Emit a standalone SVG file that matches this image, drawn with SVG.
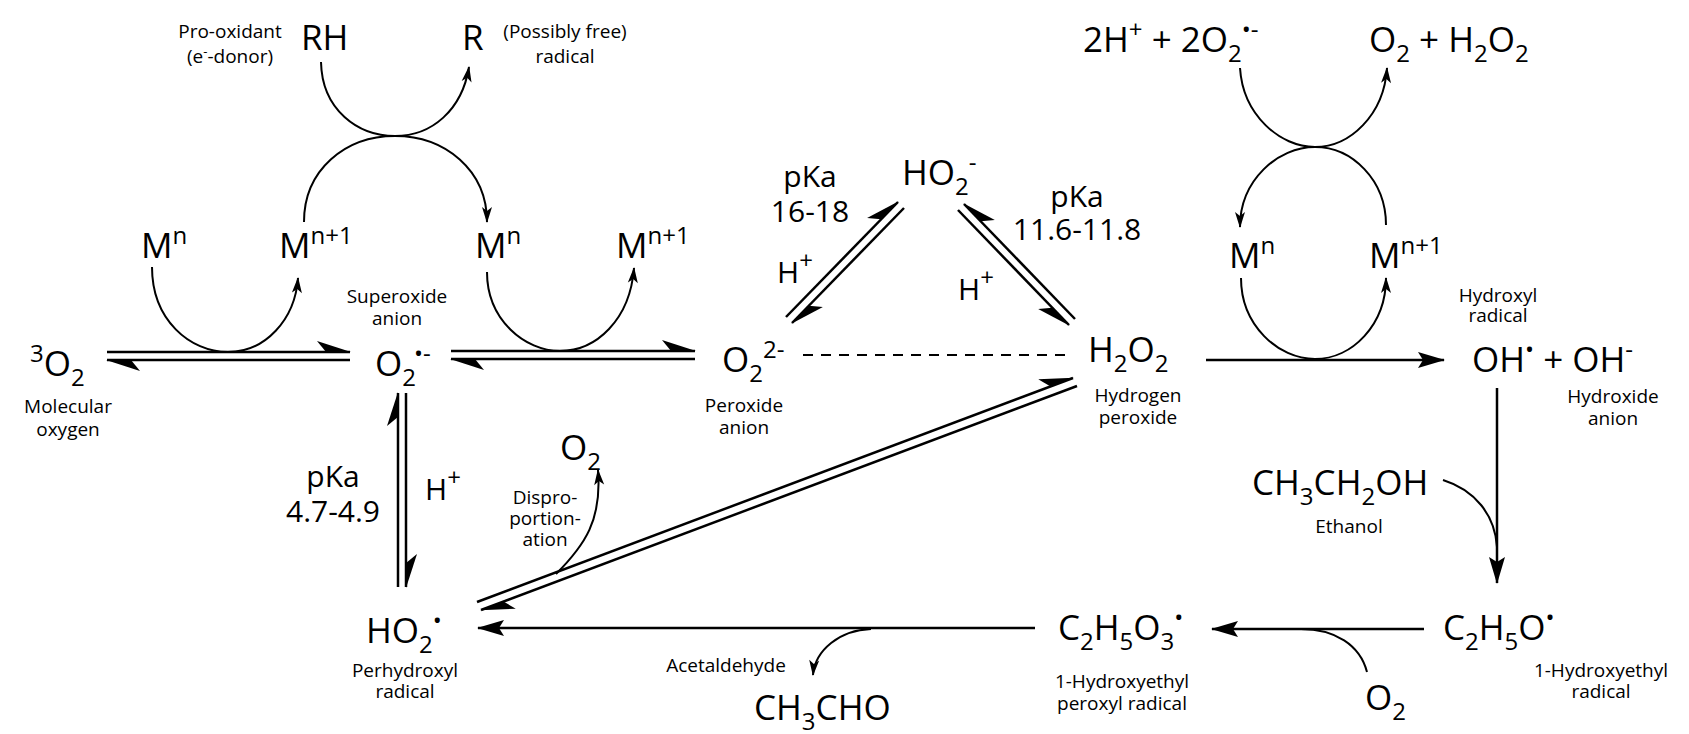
<svg xmlns="http://www.w3.org/2000/svg" width="1689" height="734" viewBox="0 0 1689 734">
<style>
text{font-family:"Open Sans","Noto Sans",sans-serif;fill:#000}
.b{font-size:35px}
.m{font-size:30px}
.s{font-size:19px;text-anchor:middle}
.c{text-anchor:middle}
.sub{font-size:24px;baseline-shift:-10px}
.sup{font-size:24px;baseline-shift:14px}
.ssup{font-size:13px;baseline-shift:7px}
.ln{stroke:#000;stroke-width:2.5;fill:none}
.cv{stroke:#000;stroke-width:2;fill:none}
</style>
<defs>
<marker id="hl" markerUnits="userSpaceOnUse" orient="auto" markerWidth="40" markerHeight="30" refX="0" refY="0" viewBox="-36 -14 40 28" overflow="visible"><path d="M1,0 L-33,-11 L-24,0 Z" fill="#000"/></marker>
<marker id="hr" markerUnits="userSpaceOnUse" orient="auto" markerWidth="40" markerHeight="30" refX="0" refY="0" viewBox="-36 -14 40 28" overflow="visible"><path d="M1,0 L-33,11 L-24,0 Z" fill="#000"/></marker>
<marker id="ar" markerUnits="userSpaceOnUse" orient="auto" markerWidth="40" markerHeight="24" refX="0" refY="0" viewBox="-34 -12 40 24" overflow="visible"><path d="M1,0 L-26,-8 L-21,0 L-26,8 Z" fill="#000"/></marker>
<marker id="sa" markerUnits="userSpaceOnUse" orient="auto" markerWidth="20" markerHeight="12" refX="0" refY="0" viewBox="-18 -6 20 12" overflow="visible"><path d="M1,0 L-15,-5 L-11,0 L-15,5 Z" fill="#000"/></marker>
</defs>
<g id="connectors">
<line class="ln" x1="107" y1="352" x2="350" y2="352" marker-end="url(#hl)"/>
<line class="ln" x1="350" y1="360" x2="107" y2="360" marker-end="url(#hl)"/>
<line class="ln" x1="451" y1="351" x2="695" y2="351" marker-end="url(#hl)"/>
<line class="ln" x1="695" y1="359" x2="451" y2="359" marker-end="url(#hl)"/>
<line class="ln" x1="398" y1="587" x2="398" y2="393" marker-end="url(#hl)"/>
<line class="ln" x1="406" y1="393" x2="406" y2="587" marker-end="url(#hl)"/>
<line class="ln" x1="786" y1="317" x2="898" y2="202" marker-end="url(#hl)"/>
<line class="ln" x1="904" y1="208" x2="792" y2="323" marker-end="url(#hl)"/>
<line class="ln" x1="1075" y1="319" x2="964" y2="204" marker-end="url(#hr)"/>
<line class="ln" x1="958" y1="210" x2="1069" y2="325" marker-end="url(#hr)"/>
<line class="ln" x1="477" y1="602" x2="1073" y2="378" marker-end="url(#hl)"/>
<line class="ln" x1="1077" y1="386" x2="481" y2="610" marker-end="url(#hl)"/>
<line class="cv" x1="803" y1="355" x2="1068" y2="355" stroke-dasharray="10 8"/>
<line class="ln" x1="1206" y1="360" x2="1444" y2="360" marker-end="url(#ar)"/>
<line class="ln" x1="1497" y1="388" x2="1497" y2="583" marker-end="url(#ar)"/>
<line class="ln" x1="1424" y1="629" x2="1212" y2="629" marker-end="url(#ar)"/>
<line class="ln" x1="1035" y1="628" x2="478" y2="628" marker-end="url(#ar)"/>
<path class="cv" d="M321,62 C322,110 358,136 395,136 C432,136 462,110 469,67" marker-end="url(#sa)"/>
<path class="cv" d="M304,222 C304,170 345,136 395,136 C445,136 487,170 487,222" marker-end="url(#sa)"/>
<path class="cv" d="M152,267 C152,320 190,352 228,352 C265,352 295,320 298,278" marker-end="url(#sa)"/>
<path class="cv" d="M487,272 C487,320 525,351 560,351 C596,351 630,320 634,268" marker-end="url(#sa)"/>
<path class="cv" d="M1240,68 C1243,115 1280,147 1315,147 C1350,147 1384,115 1387,68" marker-end="url(#sa)"/>
<path class="cv" d="M1386,225 C1386,180 1352,147 1315,147 C1278,147 1240,180 1240,227" marker-end="url(#sa)"/>
<path class="cv" d="M1241,278 C1241,325 1278,359 1315,359 C1352,359 1386,325 1386,278" marker-end="url(#sa)"/>
<path class="cv" d="M556,574 C585,545 602,520 598,470" marker-end="url(#sa)"/>
<path class="cv" d="M871,629 C840,630 815,650 813,675" marker-end="url(#sa)"/>
<path class="cv" d="M1367,672 C1360,645 1335,629 1301,629"/>
<path class="cv" d="M1443,480 C1475,490 1495,515 1497,547"/>
</g>
<g id="rh"><text class="b" x="301" y="50">RH</text><text class="s" x="230" y="38">Pro-oxidant</text><text class="s" x="230" y="63">(e<tspan class="ssup">-</tspan>-donor)</text></g>
<g id="r"><text class="b" x="462" y="50">R</text><text class="s" x="565" y="38">(Possibly free)</text><text class="s" x="565" y="63">radical</text></g>
<g id="m1"><text class="b" x="141" y="258">M<tspan class="sup">n</tspan></text></g>
<g id="m2"><text class="b" x="279" y="258">M<tspan class="sup">n+1</tspan></text></g>
<g id="m3"><text class="b" x="475" y="258">M<tspan class="sup">n</tspan></text></g>
<g id="m4"><text class="b" x="616" y="258">M<tspan class="sup">n+1</tspan></text></g>
<g id="m5"><text class="b" x="1229" y="268">M<tspan class="sup">n</tspan></text></g>
<g id="m6"><text class="b" x="1369" y="268">M<tspan class="sup">n+1</tspan></text></g>
<g id="o2t"><text class="b" x="30" y="376"><tspan class="sup">3</tspan>O<tspan class="sub">2</tspan></text><text class="s" x="68" y="413">Molecular</text><text class="s" x="68" y="436">oxygen</text></g>
<g id="superoxide"><text class="b" x="375" y="376">O<tspan class="sub">2</tspan><tspan class="sup" dx="-2">•-</tspan></text><text class="s" x="397" y="303">Superoxide</text><text class="s" x="397" y="325">anion</text></g>
<g id="peroxide"><text class="b" x="722" y="372">O<tspan class="sub">2</tspan><tspan class="sup">2-</tspan></text><text class="s" x="744" y="412">Peroxide</text><text class="s" x="744" y="434">anion</text></g>
<g id="ho2m"><text class="b" x="902" y="185">HO<tspan class="sub">2</tspan><tspan class="sup">-</tspan></text></g>
<g id="pka1"><text class="m c" x="810" y="187">pKa</text><text class="m c" x="810" y="222">16-18</text><text class="m" x="777" y="283">H<tspan class="sup">+</tspan></text></g>
<g id="pka2"><text class="m c" x="1077" y="207">pKa</text><text class="m c" x="1077" y="240">11.6-11.8</text><text class="m" x="958" y="300">H<tspan class="sup">+</tspan></text></g>
<g id="h2o2"><text class="b" x="1088" y="362">H<tspan class="sub">2</tspan>O<tspan class="sub">2</tspan></text><text class="s" x="1138" y="402">Hydrogen</text><text class="s" x="1138" y="424">peroxide</text></g>
<g id="disp1"><text class="b" x="1083" y="52">2H<tspan class="sup">+</tspan> + 2O<tspan class="sub">2</tspan><tspan class="sup">•-</tspan></text></g>
<g id="disp2"><text class="b" x="1369" y="52">O<tspan class="sub">2</tspan> + H<tspan class="sub">2</tspan>O<tspan class="sub">2</tspan></text></g>
<g id="oh"><text class="b" x="1472" y="372">OH<tspan class="sup">•</tspan> + OH<tspan class="sup">-</tspan></text><text class="s" x="1498" y="302">Hydroxyl</text><text class="s" x="1498" y="322">radical</text><text class="s" x="1613" y="403">Hydroxide</text><text class="s" x="1613" y="425">anion</text></g>
<g id="pka3"><text class="m c" x="333" y="487">pKa</text><text class="m c" x="333" y="522">4.7-4.9</text><text class="m" x="425" y="500">H<tspan class="sup">+</tspan></text></g>
<g id="o2d"><text class="b" x="560" y="460">O<tspan class="sub">2</tspan></text><text class="s" x="545" y="504">Dispro-</text><text class="s" x="545" y="525">portion-</text><text class="s" x="545" y="546">ation</text></g>
<g id="ho2r"><text class="b" x="366" y="643">HO<tspan class="sub">2</tspan><tspan class="sup">•</tspan></text><text class="s" x="405" y="677">Perhydroxyl</text><text class="s" x="405" y="698">radical</text></g>
<g id="ch3cho"><text class="s" x="726" y="672">Acetaldehyde</text><text class="b" x="754" y="720">CH<tspan class="sub">3</tspan>CHO</text></g>
<g id="ethanol"><text class="b" x="1252" y="495">CH<tspan class="sub">3</tspan>CH<tspan class="sub">2</tspan>OH</text><text class="s" x="1349" y="533">Ethanol</text></g>
<g id="c2h5o3"><text class="b" x="1058" y="640">C<tspan class="sub">2</tspan>H<tspan class="sub">5</tspan>O<tspan class="sub">3</tspan><tspan class="sup">•</tspan></text><text class="s" x="1122" y="688">1-Hydroxyethyl</text><text class="s" x="1122" y="710">peroxyl radical</text></g>
<g id="c2h5o"><text class="b" x="1443" y="640">C<tspan class="sub">2</tspan>H<tspan class="sub">5</tspan>O<tspan class="sup">•</tspan></text><text class="s" x="1601" y="677">1-Hydroxyethyl</text><text class="s" x="1601" y="698">radical</text></g>
<g id="o2b"><text class="b" x="1365" y="710">O<tspan class="sub">2</tspan></text></g>
</svg>
